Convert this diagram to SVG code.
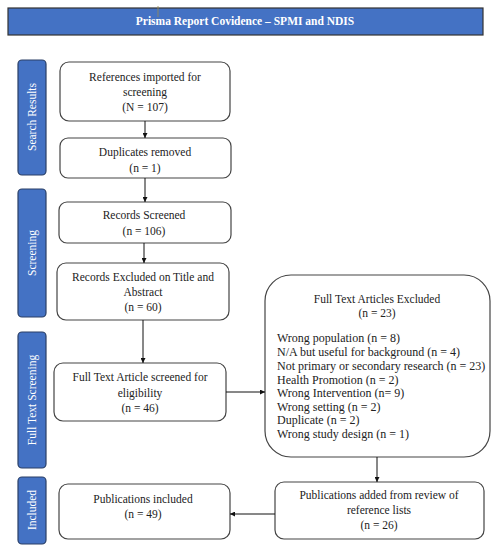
<svg xmlns="http://www.w3.org/2000/svg" width="499" height="550" viewBox="0 0 499 550">
<defs>
<marker id="ah" viewBox="0 0 10 10" refX="10" refY="5" markerWidth="5" markerHeight="5" orient="auto"><path d="M0,0 L10,5 L0,10 z" fill="#111"/></marker>
<style>
.box{fill:#fff;stroke:#444;stroke-width:1.2}
.tab{fill:#4472C4;stroke:#2a3f66;stroke-width:1.2}
.t{font-family:"Liberation Serif",serif;font-size:11.5px;fill:#222;text-anchor:middle}
.l{font-family:"Liberation Serif",serif;font-size:12px;fill:#222}
.s{font-family:"Liberation Serif",serif;font-size:11.5px;fill:#fff;text-anchor:middle}
.c{stroke:#111;stroke-width:1;fill:none;marker-end:url(#ah)}
</style>
</defs>
<rect width="499" height="550" fill="#fff"/>
<g id="title">
<rect x="8" y="8" width="475" height="27" fill="#4472C4" stroke="#333" stroke-width="1.2"/>
<text x="245" y="25" class="s" font-weight="bold" font-size="12px">Prisma Report Covidence – SPMI and NDIS</text>
<line x1="158" y1="6" x2="158" y2="17" stroke="#9a8a50" stroke-width="0.8"/>
</g>
<g id="tab-search"><rect class="tab" x="18" y="60" width="28" height="115" rx="4"/><text class="s" transform="translate(36,117) rotate(-90)">Search Results</text></g>
<g id="tab-screening"><rect class="tab" x="18" y="189" width="28" height="128" rx="4"/><text class="s" transform="translate(36,253) rotate(-90)">Screening</text></g>
<g id="tab-fulltext"><rect class="tab" x="18" y="332" width="28" height="136" rx="4"/><text class="s" transform="translate(36,400) rotate(-90)">Full Text Screening</text></g>
<g id="tab-included"><rect class="tab" x="18" y="477" width="28" height="67" rx="4"/><text class="s" transform="translate(36,510) rotate(-90)">Included</text></g>

<g id="n1"><rect class="box" x="60" y="62" width="170" height="59" rx="9"/>
<text class="t" x="145" y="81">References imported for</text><text class="t" x="145" y="96">screening</text><text class="t" x="145" y="111">(N = 107)</text></g>
<g id="n2"><rect class="box" x="60" y="138" width="171" height="40" rx="8"/>
<text class="t" x="145" y="156">Duplicates removed</text><text class="t" x="145" y="172">(n = 1)</text></g>
<g id="n3"><rect class="box" x="59" y="202" width="172" height="41" rx="8"/>
<text class="t" x="144" y="219">Records Screened</text><text class="t" x="144" y="235">(n = 106)</text></g>
<g id="n4"><rect class="box" x="57" y="263" width="172" height="57" rx="9"/>
<text class="t" x="143" y="281">Records Excluded on Title and</text><text class="t" x="143" y="296">Abstract</text><text class="t" x="143" y="311">(n = 60)</text></g>
<g id="n5"><rect class="box" x="54" y="363" width="172" height="58" rx="9"/>
<text class="t" x="140" y="381">Full Text Article screened for</text><text class="t" x="140" y="397">eligibility</text><text class="t" x="140" y="412">(n = 46)</text></g>
<g id="n6"><rect class="box" x="265" y="275" width="225" height="182" rx="26"/>
<text class="t" x="377" y="303">Full Text Articles Excluded</text><text class="t" x="377" y="317">(n = 23)</text>
<text class="l" x="277" y="342">Wrong population (n = 8)</text>
<text class="l" x="277" y="356">N/A but useful for background (n = 4)</text>
<text class="l" x="277" y="370">Not primary or secondary research (n = 23)</text>
<text class="l" x="277" y="384">Health Promotion (n = 2)</text>
<text class="l" x="277" y="397">Wrong Intervention (n= 9)</text>
<text class="l" x="277" y="411">Wrong setting (n = 2)</text>
<text class="l" x="277" y="424">Duplicate (n = 2)</text>
<text class="l" x="277" y="438">Wrong study design (n = 1)</text></g>
<g id="n7"><rect class="box" x="275" y="482" width="209" height="57" rx="9"/>
<text class="t" x="379" y="499">Publications added from review of</text><text class="t" x="379" y="514">reference lists</text><text class="t" x="379" y="529">(n = 26)</text></g>
<g id="n8"><rect class="box" x="59" y="484" width="171" height="55" rx="9"/>
<text class="t" x="143" y="503">Publications included</text><text class="t" x="143" y="518">(n = 49)</text></g>

<g id="connectors">
<line class="c" x1="145" y1="121" x2="145" y2="138"/>
<line class="c" x1="145" y1="178" x2="145" y2="202"/>
<line class="c" x1="144" y1="243" x2="144" y2="263"/>
<line class="c" x1="143" y1="320" x2="143" y2="363"/>
<line class="c" x1="226" y1="392" x2="265" y2="392"/>
<line class="c" x1="377" y1="457" x2="377" y2="482"/>
<line class="c" x1="275" y1="514" x2="230" y2="514"/>
</g>
</svg>
